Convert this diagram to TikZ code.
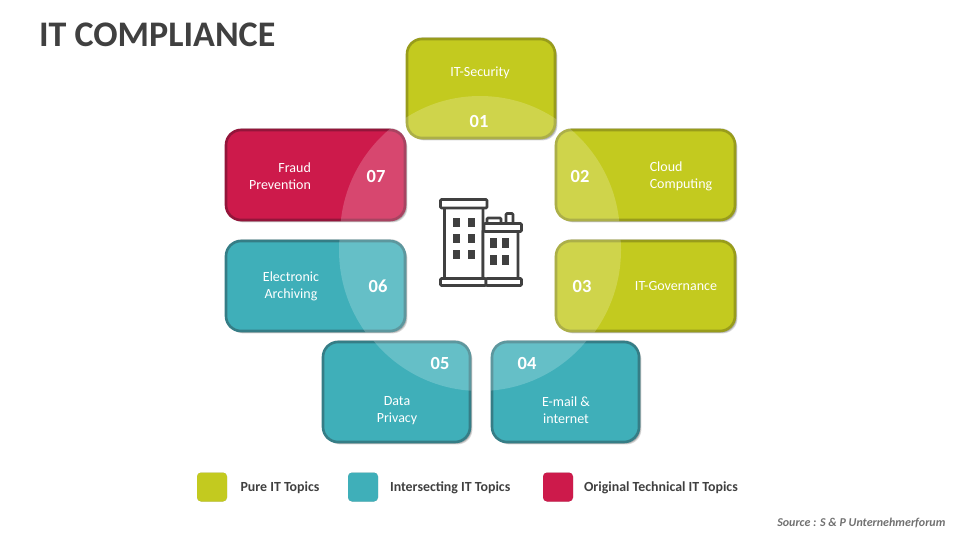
\documentclass[tikz,border=0pt]{standalone}
\usepackage{fontspec}
\setmainfont{Carlito}
\usetikzlibrary{shadows}
\definecolor{lime}{HTML}{C3CA1F}
\definecolor{limeline}{HTML}{989C1B}
\definecolor{teal}{HTML}{3FAFB9}
\definecolor{tealline}{HTML}{357D86}
\definecolor{crimson}{HTML}{CD1A4B}
\definecolor{crimsonline}{HTML}{93153A}
\definecolor{ink}{HTML}{404040}
\tikzset{
  cardshadow/.style={
    drop shadow={shadow xshift=2.4pt,shadow yshift=-2.4pt,opacity=0.16,fill=black},
    drop shadow={shadow xshift=1.6pt,shadow yshift=-1.6pt,opacity=0.2,fill=black},
    drop shadow={shadow xshift=0.6pt,shadow yshift=1.8pt,opacity=0.14,fill=black}},
  cardline/.style={line width=2.6pt,rounded corners=15pt},
  glowclip/.style={rounded corners=16pt},
  glow/.style={fill=white,fill opacity=0.2},
  cardtext/.style={text=white,font=\fontsize{14}{17}\selectfont,align=center},
  cardnum/.style={text=white,font=\fontsize{18.5}{20}\selectfont\bfseries},
  swatch/.style={rounded corners=4pt,minimum width=30pt,minimum height=29pt,drop shadow={shadow xshift=0pt,shadow yshift=0pt,opacity=0.25,fill=black}},
  legend/.style={text=ink,font=\fontsize{13.9}{15}\selectfont\bfseries,anchor=west},
  iconline/.style={draw=ink,line width=2.8pt,line join=round,rounded corners=1pt,fill=white},
  window/.style={fill=ink}
}
\begin{document}
\begin{tikzpicture}[x=1pt,y=-1pt]
  \useasboundingbox(0,0)rectangle(960,540);
  \node[anchor=west,text=ink,font=\fontsize{36}{40}\selectfont\bfseries](title)at(35.5,34.5){IT COMPLIANCE};
  % card 01
  \fill[lime,cardshadow,rounded corners=15pt](407,39)rectangle(555,138);
  \draw[limeline,cardline](407,39)rectangle(555,138);
  \begin{scope}
    \clip[glowclip](405.7,37.7)rectangle(556.3,139.3);
    \fill[glow](480,233)circle(137);
  \end{scope}
  \node[cardtext](security)at(480,72.5){IT-Security};
  \node[cardnum](n01)at(479,121){01};
  % card 02
  \fill[lime,cardshadow,rounded corners=15pt](556,130)rectangle(735,220);
  \draw[limeline,cardline](556,130)rectangle(735,220);
  \begin{scope}
    \clip[glowclip](554.7,128.7)rectangle(736.3,221.3);
    \fill[glow](480,236)circle(140);
  \end{scope}
  \node[cardtext,align=left](cloud)at(681,176.5){Cloud\\Computing};
  \node[cardnum](n02)at(580,176){02};
  % card 03
  \fill[lime,cardshadow,rounded corners=15pt](556,241)rectangle(735,331);
  \draw[limeline,cardline](556,241)rectangle(735,331);
  \begin{scope}
    \clip[glowclip](554.7,239.7)rectangle(736.3,332.3);
    \fill[glow](480,250)circle(141);
  \end{scope}
  \node[cardtext](governance)at(676,286){IT-Governance};
  \node[cardnum](n03)at(582,286){03};
  % card 04
  \fill[teal,cardshadow,rounded corners=15pt](492,342)rectangle(639,442);
  \draw[tealline,cardline](492,342)rectangle(639,442);
  \begin{scope}
    \clip[glowclip](490.7,340.7)rectangle(640.3,443.3);
    \fill[glow](480,253)circle(138);
  \end{scope}
  \node[cardtext](email)at(566,410.5){E-mail \&\\internet};
  \node[cardnum](n04)at(527,363){04};
  % card 05
  \fill[teal,cardshadow,rounded corners=15pt](323,342)rectangle(470,442);
  \draw[tealline,cardline](323,342)rectangle(470,442);
  \begin{scope}
    \clip[glowclip](321.7,340.7)rectangle(471.3,443.3);
    \fill[glow](480,253)circle(138);
  \end{scope}
  \node[cardtext](privacy)at(397,410.5){Data\\Privacy};
  \node[cardnum](n05)at(440,363){05};
  % card 06
  \fill[teal,cardshadow,rounded corners=15pt](226,241)rectangle(405,331);
  \draw[tealline,cardline](226,241)rectangle(405,331);
  \begin{scope}
    \clip[glowclip](224.7,239.7)rectangle(406.3,332.3);
    \fill[glow](480,250)circle(141);
  \end{scope}
  \node[cardtext](archiving)at(291,286.5){Electronic\\Archiving};
  \node[cardnum](n06)at(378,286){06};
  % card 07
  \fill[crimson,cardshadow,rounded corners=15pt](226,130)rectangle(405,220);
  \draw[crimsonline,cardline](226,130)rectangle(405,220);
  \begin{scope}
    \clip[glowclip](224.7,128.7)rectangle(406.3,221.3);
    \fill[glow](480,236)circle(140);
  \end{scope}
  \node[cardtext,align=right](fraud)at(280,176.5){Fraud\\Prevention};
  \node[cardnum](n07)at(376,176){07};
  % building
  \draw[iconline](444.5,206)rectangle(483,280);
  \draw[iconline](487,222)--(487,218)--(501,218)--(501,224);
  \draw[iconline](506,224)--(506,213.5)--(513,213.5)--(513,224);
  \draw[iconline](483,230)rectangle(518,280);
  \draw[iconline](440.5,199.5)rectangle(487,208);
  \draw[iconline](484,223.5)rectangle(521.5,231.5);
  \draw[iconline](440.5,278.5)rectangle(486,285.5);
  \draw[iconline](486,278.5)rectangle(521.5,285.5);
  \foreach \wx in {453,468}
    \foreach \wy in {218,234,250}
      \fill[window](\wx,\wy)rectangle++(6.5,8.5);
  \foreach \wx in {490,502}
    \foreach \wy in {238,255}
      \fill[window](\wx,\wy)rectangle++(6.5,9.5);
  % legend
  \node[swatch,fill=lime](puresw)at(212,487){};
  \node[legend](pure)at(237,487.5){Pure IT Topics};
  \node[swatch,fill=teal](intersw)at(363,487){};
  \node[legend](inter)at(386.5,487.5){Intersecting IT Topics};
  \node[swatch,fill=crimson](origsw)at(558,487){};
  \node[legend](orig)at(580.5,487.5){Original Technical IT Topics};
  \node[anchor=east,text=ink!75,font=\fontsize{12}{13}\selectfont\bfseries\itshape](source)at(949,523){Source : S \& P Unternehmerforum};
\end{tikzpicture}
\end{document}
